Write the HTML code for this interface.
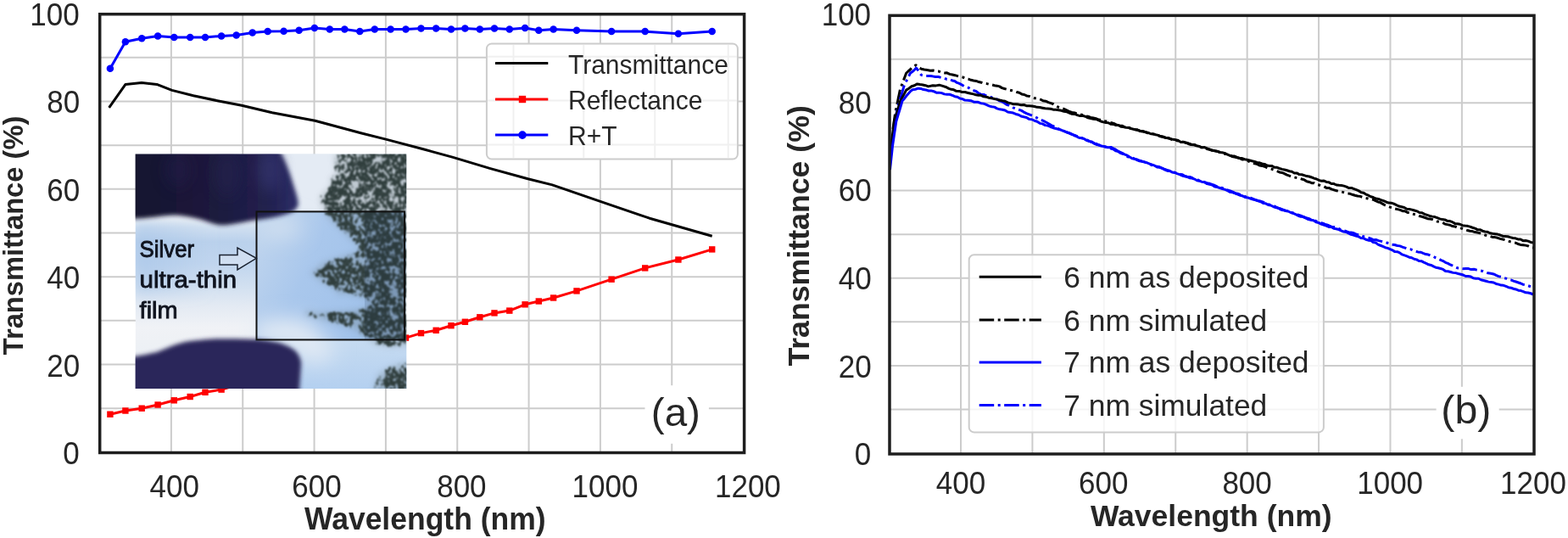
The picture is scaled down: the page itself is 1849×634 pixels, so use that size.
<!DOCTYPE html>
<html><head><meta charset="utf-8"><title>Transmittance figure</title>
<style>html,body{margin:0;padding:0;background:#fff;overflow:hidden}svg{display:block}text{font-family:'Liberation Sans', sans-serif}</style></head><body>
<svg width="1849" height="634" viewBox="0 0 1849 634">
<rect width="1849" height="634" fill="#ffffff"/>
<line x1="201.9" y1="16.7" x2="201.9" y2="533.5" stroke="#cccccc" stroke-width="2"/>
<line x1="286.24" y1="16.7" x2="286.24" y2="533.5" stroke="#cccccc" stroke-width="2"/>
<line x1="370.57" y1="16.7" x2="370.57" y2="533.5" stroke="#cccccc" stroke-width="2"/>
<line x1="454.9" y1="16.7" x2="454.9" y2="533.5" stroke="#cccccc" stroke-width="2"/>
<line x1="539.24" y1="16.7" x2="539.24" y2="533.5" stroke="#cccccc" stroke-width="2"/>
<line x1="623.57" y1="16.7" x2="623.57" y2="533.5" stroke="#cccccc" stroke-width="2"/>
<line x1="707.9" y1="16.7" x2="707.9" y2="533.5" stroke="#cccccc" stroke-width="2"/>
<line x1="792.24" y1="16.7" x2="792.24" y2="533.5" stroke="#cccccc" stroke-width="2"/>
<line x1="117.7" y1="481.22" x2="877.6" y2="481.22" stroke="#cccccc" stroke-width="2"/>
<line x1="117.7" y1="429.54" x2="877.6" y2="429.54" stroke="#cccccc" stroke-width="2"/>
<line x1="117.7" y1="377.86" x2="877.6" y2="377.86" stroke="#cccccc" stroke-width="2"/>
<line x1="117.7" y1="326.18" x2="877.6" y2="326.18" stroke="#cccccc" stroke-width="2"/>
<line x1="117.7" y1="274.5" x2="877.6" y2="274.5" stroke="#cccccc" stroke-width="2"/>
<line x1="117.7" y1="222.82" x2="877.6" y2="222.82" stroke="#cccccc" stroke-width="2"/>
<line x1="117.7" y1="171.14" x2="877.6" y2="171.14" stroke="#cccccc" stroke-width="2"/>
<line x1="117.7" y1="119.46" x2="877.6" y2="119.46" stroke="#cccccc" stroke-width="2"/>
<line x1="117.7" y1="67.78" x2="877.6" y2="67.78" stroke="#cccccc" stroke-width="2"/>
<rect x="760.5" y="454.2" width="75.4" height="68.6" fill="#fff"/>
<polyline points="128.6,126.8 148,99.4 167,97.5 184.9,99.4 202.8,106.4 228.1,112.7 257.6,119 285,124.3 320.9,132.7 371.5,142.2 426.4,157 455.9,164.4 500,176 534.2,185.4 578.3,198.6 622.5,210.8 651.2,217.9 710.8,238.4 766,257.2 839.7,278.2" fill="none" stroke="#000" stroke-width="3" stroke-linejoin="round"/>
<polyline points="129.9,488.2 147.9,484 167.2,481.2 186.1,477 205.3,471.8 224.2,467.5 242,462.3 261.1,459.1 278.7,454.16 297.7,448.83 315.7,443.78 334.6,438.48 352.6,433.43 370.9,428.29 388.8,423.27 406.4,418.33 424.3,413.31 441.8,408.4 460.6,403.12 478.5,398.1 496.5,392.6 514.2,389.3 532,383.7 548.4,379.3 565.8,373.8 583,368.9 600.8,366.1 619.1,358.8 635.3,355 652.6,351 680,342.9 721.1,329.2 760.7,315.9 799.9,306 839.7,293.9" fill="none" stroke="#ff0000" stroke-width="3" stroke-linejoin="round"/>
<rect x="126.2" y="484.5" width="7.4" height="7.4" fill="#ff0000"/>
<rect x="144.2" y="480.3" width="7.4" height="7.4" fill="#ff0000"/>
<rect x="163.5" y="477.5" width="7.4" height="7.4" fill="#ff0000"/>
<rect x="182.4" y="473.3" width="7.4" height="7.4" fill="#ff0000"/>
<rect x="201.6" y="468.1" width="7.4" height="7.4" fill="#ff0000"/>
<rect x="220.5" y="463.8" width="7.4" height="7.4" fill="#ff0000"/>
<rect x="238.3" y="458.6" width="7.4" height="7.4" fill="#ff0000"/>
<rect x="257.4" y="455.4" width="7.4" height="7.4" fill="#ff0000"/>
<rect x="275" y="450.46" width="7.4" height="7.4" fill="#ff0000"/>
<rect x="294" y="445.13" width="7.4" height="7.4" fill="#ff0000"/>
<rect x="312" y="440.08" width="7.4" height="7.4" fill="#ff0000"/>
<rect x="330.9" y="434.78" width="7.4" height="7.4" fill="#ff0000"/>
<rect x="348.9" y="429.73" width="7.4" height="7.4" fill="#ff0000"/>
<rect x="367.2" y="424.59" width="7.4" height="7.4" fill="#ff0000"/>
<rect x="385.1" y="419.57" width="7.4" height="7.4" fill="#ff0000"/>
<rect x="402.7" y="414.63" width="7.4" height="7.4" fill="#ff0000"/>
<rect x="420.6" y="409.61" width="7.4" height="7.4" fill="#ff0000"/>
<rect x="438.1" y="404.7" width="7.4" height="7.4" fill="#ff0000"/>
<rect x="456.9" y="399.42" width="7.4" height="7.4" fill="#ff0000"/>
<rect x="474.8" y="394.4" width="7.4" height="7.4" fill="#ff0000"/>
<rect x="492.8" y="388.9" width="7.4" height="7.4" fill="#ff0000"/>
<rect x="510.5" y="385.6" width="7.4" height="7.4" fill="#ff0000"/>
<rect x="528.3" y="380" width="7.4" height="7.4" fill="#ff0000"/>
<rect x="544.7" y="375.6" width="7.4" height="7.4" fill="#ff0000"/>
<rect x="562.1" y="370.1" width="7.4" height="7.4" fill="#ff0000"/>
<rect x="579.3" y="365.2" width="7.4" height="7.4" fill="#ff0000"/>
<rect x="597.1" y="362.4" width="7.4" height="7.4" fill="#ff0000"/>
<rect x="615.4" y="355.1" width="7.4" height="7.4" fill="#ff0000"/>
<rect x="631.6" y="351.3" width="7.4" height="7.4" fill="#ff0000"/>
<rect x="648.9" y="347.3" width="7.4" height="7.4" fill="#ff0000"/>
<rect x="676.3" y="339.2" width="7.4" height="7.4" fill="#ff0000"/>
<rect x="717.4" y="325.5" width="7.4" height="7.4" fill="#ff0000"/>
<rect x="757" y="312.2" width="7.4" height="7.4" fill="#ff0000"/>
<rect x="796.2" y="302.3" width="7.4" height="7.4" fill="#ff0000"/>
<rect x="836" y="290.2" width="7.4" height="7.4" fill="#ff0000"/>
<polyline points="129.9,80.8 147.9,49.2 167.2,45.2 186.1,42.4 205.3,44.1 224.2,44.1 242,44.1 261.1,42.4 278.7,41.4 297.7,38.6 315.7,37.1 334.6,36.7 352.6,35.7 370.9,32.9 388.8,34.6 406.4,34.6 424.3,37.1 441.8,34.6 460.6,34.6 478.5,34.6 496.5,33.6 514.2,33.6 532,34.6 548.4,33.6 565.8,34.6 583,33.6 600.8,34.6 619.1,32.9 635.3,35.7 652.6,34.6 680,35.7 721.1,37.1 760.7,37.1 799.9,39.7 839.7,37.1" fill="none" stroke="#0000ff" stroke-width="3" stroke-linejoin="round"/>
<circle cx="129.9" cy="80.8" r="4.25" fill="#0000ff"/>
<circle cx="147.9" cy="49.2" r="4.25" fill="#0000ff"/>
<circle cx="167.2" cy="45.2" r="4.25" fill="#0000ff"/>
<circle cx="186.1" cy="42.4" r="4.25" fill="#0000ff"/>
<circle cx="205.3" cy="44.1" r="4.25" fill="#0000ff"/>
<circle cx="224.2" cy="44.1" r="4.25" fill="#0000ff"/>
<circle cx="242" cy="44.1" r="4.25" fill="#0000ff"/>
<circle cx="261.1" cy="42.4" r="4.25" fill="#0000ff"/>
<circle cx="278.7" cy="41.4" r="4.25" fill="#0000ff"/>
<circle cx="297.7" cy="38.6" r="4.25" fill="#0000ff"/>
<circle cx="315.7" cy="37.1" r="4.25" fill="#0000ff"/>
<circle cx="334.6" cy="36.7" r="4.25" fill="#0000ff"/>
<circle cx="352.6" cy="35.7" r="4.25" fill="#0000ff"/>
<circle cx="370.9" cy="32.9" r="4.25" fill="#0000ff"/>
<circle cx="388.8" cy="34.6" r="4.25" fill="#0000ff"/>
<circle cx="406.4" cy="34.6" r="4.25" fill="#0000ff"/>
<circle cx="424.3" cy="37.1" r="4.25" fill="#0000ff"/>
<circle cx="441.8" cy="34.6" r="4.25" fill="#0000ff"/>
<circle cx="460.6" cy="34.6" r="4.25" fill="#0000ff"/>
<circle cx="478.5" cy="34.6" r="4.25" fill="#0000ff"/>
<circle cx="496.5" cy="33.6" r="4.25" fill="#0000ff"/>
<circle cx="514.2" cy="33.6" r="4.25" fill="#0000ff"/>
<circle cx="532" cy="34.6" r="4.25" fill="#0000ff"/>
<circle cx="548.4" cy="33.6" r="4.25" fill="#0000ff"/>
<circle cx="565.8" cy="34.6" r="4.25" fill="#0000ff"/>
<circle cx="583" cy="33.6" r="4.25" fill="#0000ff"/>
<circle cx="600.8" cy="34.6" r="4.25" fill="#0000ff"/>
<circle cx="619.1" cy="32.9" r="4.25" fill="#0000ff"/>
<circle cx="635.3" cy="35.7" r="4.25" fill="#0000ff"/>
<circle cx="652.6" cy="34.6" r="4.25" fill="#0000ff"/>
<circle cx="680" cy="35.7" r="4.25" fill="#0000ff"/>
<circle cx="721.1" cy="37.1" r="4.25" fill="#0000ff"/>
<circle cx="760.7" cy="37.1" r="4.25" fill="#0000ff"/>
<circle cx="799.9" cy="39.7" r="4.25" fill="#0000ff"/>
<circle cx="839.7" cy="37.1" r="4.25" fill="#0000ff"/>
<defs>
<clipPath id="ic"><rect x="159.6" y="181.4" width="319.7" height="276.6"/></clipPath>
<filter id="b2" x="-20%" y="-20%" width="140%" height="140%"><feGaussianBlur stdDeviation="2.4"/></filter>
<filter id="b6" x="-60%" y="-60%" width="220%" height="220%"><feGaussianBlur stdDeviation="8"/></filter>
<filter id="b12" x="-60%" y="-60%" width="220%" height="220%"><feGaussianBlur stdDeviation="12"/></filter>
<linearGradient id="skyL" x1="0" y1="181.4" x2="0" y2="458.0" gradientUnits="userSpaceOnUse"><stop offset="0" stop-color="#d5e1ef"/><stop offset="0.277" stop-color="#e9eef5"/><stop offset="0.313" stop-color="#d0dff0"/><stop offset="0.374" stop-color="#bad1ec"/><stop offset="0.465" stop-color="#c0d5ee"/><stop offset="0.556" stop-color="#d0dff0"/><stop offset="0.647" stop-color="#e3eaf3"/><stop offset="0.738" stop-color="#f0f2f6"/><stop offset="0.8" stop-color="#eef1f5"/><stop offset="1" stop-color="#e6ecf4"/></linearGradient>
<linearGradient id="skyLx" x1="160" y1="0" x2="250" y2="0" gradientUnits="userSpaceOnUse"><stop offset="0" stop-color="#9fbfe6" stop-opacity="0.5"/><stop offset="1" stop-color="#9fbfe6" stop-opacity="0"/></linearGradient>
<linearGradient id="skyR" x1="302" y1="250" x2="470" y2="330" gradientUnits="userSpaceOnUse"><stop offset="0" stop-color="#c3d7ee"/><stop offset="0.45" stop-color="#a9c7ec"/><stop offset="1" stop-color="#9fc1ea"/></linearGradient>
<linearGradient id="skyB" x1="0" y1="400" x2="0" y2="458" gradientUnits="userSpaceOnUse"><stop offset="0" stop-color="#c6dbf1"/><stop offset="1" stop-color="#b4d0f0"/></linearGradient>
<linearGradient id="fingT" x1="160" y1="0" x2="352" y2="0" gradientUnits="userSpaceOnUse"><stop offset="0" stop-color="#17152f"/><stop offset="0.5" stop-color="#1c1a3e"/><stop offset="0.82" stop-color="#22214f"/><stop offset="1" stop-color="#2c2e68"/></linearGradient>
</defs>
<g clip-path="url(#ic)">
<rect x="159.6" y="181.4" width="319.7" height="276.6" fill="url(#skyL)"/>
<rect x="159" y="262" width="100" height="85" fill="url(#skyLx)" filter="url(#b6)"/>
<rect x="300" y="181" width="180" height="69" fill="#e4ebf4"/>
<rect x="302.5" y="249.4" width="175" height="151" fill="url(#skyR)"/>
<rect x="300" y="400.5" width="180" height="58" fill="url(#skyB)"/>
<g filter="url(#b12)"><ellipse cx="335" cy="392" rx="40" ry="16" fill="#e4ecf5"/><ellipse cx="372" cy="412" rx="22" ry="14" fill="#e2eaf4"/><ellipse cx="330" cy="268" rx="26" ry="12" fill="#d2e0f0"/></g>
<g filter="url(#b2)">
<path d="M150,175 L328.5,175 C334,185 339,196 343,208 C347,222 352,234 351.9,241 C350,246 347,249 343,250.5 C337,252.5 332,254 328,255 C318,257 308,258.5 300,259.5 C290,261 283,263 275,264 C268,265.5 262,265.5 257,265 C248,263 240,259 230,257 C220,255 212,253.5 205,253.5 C195,254 185,255.5 175,256.5 C165,257.5 158,258 150,258 Z" fill="url(#fingT)"/>
<path d="M150,421 C165,420 175,417 185,415 C200,409 210,404 222.4,402.2 C240,400 250,399 259.9,399.2 C280,399 295,399.5 304.9,400 C320,402 328,403 334.8,406 C343,409 347,412 349.8,415 C354,421 355.5,426 355,430 C354.5,440 353.5,450 352.8,465 L150,465 Z" fill="#29275a"/>
</g>
<g filter="url(#b6)" opacity="0.55"><ellipse cx="318" cy="200" rx="14" ry="26" fill="#3a3b78"/><ellipse cx="268" cy="205" rx="16" ry="28" fill="#25234f"/><ellipse cx="210" cy="200" rx="16" ry="22" fill="#201e48"/></g>
<filter id="tree" filterUnits="userSpaceOnUse" x="340" y="175" width="145" height="290" color-interpolation-filters="sRGB"><feGaussianBlur in="SourceAlpha" stdDeviation="3.5" result="sh"/><feTurbulence type="fractalNoise" baseFrequency="0.07" numOctaves="2" seed="4" result="nc"/><feTurbulence type="fractalNoise" baseFrequency="0.3 0.22" numOctaves="2" seed="21" result="nf"/><feColorMatrix in="nc" type="matrix" values="0 0 0 0 0  0 0 0 0 0  0 0 0 0 0  2.4 0 0 0 -0.55" result="ca"/><feColorMatrix in="nf" type="matrix" values="0 0 0 0 0  0 0 0 0 0  0 0 0 0 0  2.0 0 0 0 -0.45" result="fa"/><feComposite in="ca" in2="sh" operator="arithmetic" k1="0.8" k2="0" k3="0.45" k4="0" result="dens"/><feComposite in="fa" in2="dens" operator="arithmetic" k1="1.6" k2="0" k3="0.42" k4="-0.75" result="m"/><feComponentTransfer in="m" result="m2"><feFuncA type="linear" slope="3.0" intercept="0"/></feComponentTransfer><feGaussianBlur stdDeviation="1.0" result="m3"/><feFlood flood-color="#303e3d" result="c"/><feComposite in="c" in2="m3" operator="in" result="dk"/><feFlood flood-color="#6c7c82" flood-opacity="0.3" result="c2"/><feComposite in="c2" in2="sh" operator="in" result="mid"/><feMerge><feMergeNode in="mid"/><feMergeNode in="dk"/></feMerge></filter>
<g filter="url(#tree)" fill="#000">
<path d="M394,181 L480,181 L480,300 L470,306 L452,304 L438,304 L425,292 L410,278 L396,265 L386,255 L379,242 L377,232 L386,223 L398,211 L395,196 Z"/>
<path d="M368,322 L380,310 L402,303 L432,293 L480,288 L480,358 L440,354 L416,348 L398,342 L380,333 Z"/>
<path d="M360,369 L385,368 L416,366 L440,360 L480,358 L480,402 L452,408 L432,398 L418,388 L400,382 L378,376 Z"/>
<path d="M440,462 L446,441 L461,432 L482,426 L482,462 Z"/>
<path d="M440,250 L480,250 L480,400 L445,400 Z"/>
<path d="M484.53,177.02 L450.12,176.58 L419.54,178.99 L397.32,183.05 L398.68,192.95 L420.46,191.01 L449.88,191.42 L483.47,194.98 Z M484.65,191.02 L449.73,191.49 L418.76,197.81 L398.49,205.46 L388.51,210.29 L391.49,217.71 L401.51,214.54 L421.24,210.19 L450.27,208.51 L483.35,212.98 Z M484,212 L449.41,214.62 L418.92,221 L397.33,226.66 L379.78,229.01 L380.22,236.99 L398.67,237.34 L421.08,235 L450.59,233.38 L484,236 Z M483.59,234.01 L454.02,237.41 L423.62,244.96 L404.29,251.59 L389.6,246.34 L386.4,253.66 L403.71,262.41 L426.38,259.04 L455.98,256.59 L484.41,257.99 Z M482.18,256.14 L455.86,262.74 L431.4,273.09 L412.98,271.1 L411.02,280.9 L432.6,286.91 L460.14,281.26 L485.82,279.86 Z M481.11,279.39 L460.06,287.87 L440.82,294.12 L443.18,305.88 L463.94,304.13 L486.89,300.61 Z M485.03,303.04 L455.41,304 L424.69,307.09 L397.36,311.91 L367.6,319.03 L368.4,324.97 L398.64,324.09 L425.31,324.91 L454.59,328 L482.97,332.96 Z M468.81,321.08 L438.83,327.58 L413.97,335.69 L397.31,341.08 L398.69,346.92 L416.03,344.31 L441.17,340.42 L471.19,338.92 Z M482.77,333.06 L453.8,339.62 L433.82,346.12 L436.18,357.88 L456.2,356.38 L485.23,356.94 Z M484.38,373.01 L455.76,374 L425.92,372.09 L395.75,370.14 L360.42,366.54 L359.58,371.46 L394.25,379.86 L424.08,385.91 L454.24,392 L483.62,394.99 Z M482.52,389.12 L459.69,395.2 L440.5,395.02 L439.5,404.98 L460.31,408.8 L485.48,406.88 Z M481.94,427.21 L462.5,433.88 L444.76,445.53 L449.24,454.47 L467.5,448.12 L486.06,446.79 Z M483.28,447.03 L461.55,452.02 L462.45,461.98 L484.72,462.97 Z"/>
</g>
<rect x="430" y="250" width="48" height="150" fill="#1d3048" opacity="0.15"/>
</g>
<rect x="302.5" y="249.4" width="174.5" height="151" fill="none" stroke="#111" stroke-width="2"/>
<path d="M259,300.5 L280,300.5 L280,292 L302.3,304.3 L280,318 L280,312 L259,312 Z" fill="#dfe8f3" fill-opacity="0.5" stroke="#1a2230" stroke-width="1.5" stroke-linejoin="miter"/>
<text x="164.6" y="302.8" font-size="28" fill="#10141f" stroke="#10141f" stroke-width="0.9" textLength="64.5" lengthAdjust="spacingAndGlyphs">Silver</text>
<text x="164.6" y="338.5" font-size="28" fill="#10141f" stroke="#10141f" stroke-width="0.9" textLength="114.5" lengthAdjust="spacingAndGlyphs">ultra-thin</text>
<text x="164.6" y="375.3" font-size="28" fill="#10141f" stroke="#10141f" stroke-width="0.9" textLength="45.0" lengthAdjust="spacingAndGlyphs">film</text>
<rect x="573.9" y="51.4" width="296" height="136.2" rx="6" ry="6" fill="#ffffff" stroke="#cccccc" stroke-width="2"/>
<line x1="605.5" y1="53" x2="605.5" y2="186" stroke="#f0f0f0" stroke-width="2"/>
<line x1="688.3" y1="53" x2="688.3" y2="186" stroke="#f0f0f0" stroke-width="2"/>
<line x1="772.3" y1="53" x2="772.3" y2="186" stroke="#f0f0f0" stroke-width="2"/>
<line x1="858.7" y1="53" x2="858.7" y2="186" stroke="#f0f0f0" stroke-width="2"/>
<line x1="575" y1="66.8" x2="869" y2="66.8" stroke="#f0f0f0" stroke-width="2"/>
<line x1="575" y1="118.4" x2="869" y2="118.4" stroke="#f0f0f0" stroke-width="2"/>
<line x1="575" y1="170.4" x2="869" y2="170.4" stroke="#f0f0f0" stroke-width="2"/>
<line x1="584" y1="74.6" x2="646.3" y2="74.6" stroke="#000" stroke-width="3"/>
<line x1="584" y1="117" x2="646.3" y2="117" stroke="#ff0000" stroke-width="3"/>
<rect x="611.8" y="112.8" width="8.4" height="8.4" fill="#ff0000"/>
<line x1="584" y1="159.1" x2="646.3" y2="159.1" stroke="#0000ff" stroke-width="3"/>
<circle cx="616" cy="159.1" r="4.8" fill="#0000ff"/>
<text x="670" y="86.7" font-size="30" fill="#262626" transform="matrix(1.0000 0 0 1.0750 0.000 -6.502)">Transmittance</text>
<text x="670" y="128.9" font-size="30" fill="#262626" transform="matrix(1.0000 0 0 1.0750 0.000 -9.667)">Reflectance</text>
<text x="670" y="170.9" font-size="30" fill="#262626" transform="matrix(1.0000 0 0 1.0750 0.000 -12.817)">R+T</text>
<text x="768" y="501.9" font-size="45.5" fill="#262626" transform="matrix(1.0450 0 0 1.0000 -34.695 0.000)">(a)</text>
<rect x="117.7" y="16.7" width="759.9" height="516.8" fill="none" stroke="#1e1e1e" stroke-width="3.5"/>
<text x="74.3" y="547.36" font-size="35" fill="#262626" transform="matrix(1.0000 0 0 1.0750 0.000 -41.052)">0</text>
<text x="55.3" y="443.8" font-size="35" fill="#262626" transform="matrix(1.0000 0 0 1.0750 0.000 -33.285)">20</text>
<text x="55.3" y="340.24" font-size="35" fill="#262626" transform="matrix(1.0000 0 0 1.0750 0.000 -25.518)">40</text>
<text x="55.3" y="236.68" font-size="35" fill="#262626" transform="matrix(1.0000 0 0 1.0750 0.000 -17.751)">60</text>
<text x="55.3" y="133.12" font-size="35" fill="#262626" transform="matrix(1.0000 0 0 1.0750 0.000 -9.984)">80</text>
<text x="35.3" y="29.56" font-size="35" fill="#262626" transform="matrix(1.0000 0 0 1.0750 0.000 -2.217)">100</text>
<text x="176.5" y="586.2" font-size="35" fill="#262626" transform="matrix(1.0000 0 0 1.0750 0.000 -43.965)">400</text>
<text x="344.3" y="586.2" font-size="35" fill="#262626" transform="matrix(1.0000 0 0 1.0750 0.000 -43.965)">600</text>
<text x="515.2" y="586.2" font-size="35" fill="#262626" transform="matrix(1.0000 0 0 1.0750 0.000 -43.965)">800</text>
<text x="674.6" y="586.2" font-size="35" fill="#262626" transform="matrix(1.0000 0 0 1.0750 0.000 -43.965)">1000</text>
<text x="843" y="586.2" font-size="35" fill="#262626" transform="matrix(1.0000 0 0 1.0750 0.000 -43.965)">1200</text>
<text x="359" y="624" font-size="35.5" font-weight="bold" fill="#262626" transform="matrix(1.0000 0 0 1.0200 0.000 -12.480)">Wavelength (nm)</text>
<text transform="translate(27 418.2) rotate(-90) scale(1 1.03)" x="0" y="0" font-size="32.7" font-weight="bold" fill="#262626">Transmittance (%)</text>
<line x1="1133.01" y1="18.3" x2="1133.01" y2="535" stroke="#cccccc" stroke-width="2"/>
<line x1="1217.42" y1="18.3" x2="1217.42" y2="535" stroke="#cccccc" stroke-width="2"/>
<line x1="1301.83" y1="18.3" x2="1301.83" y2="535" stroke="#cccccc" stroke-width="2"/>
<line x1="1386.24" y1="18.3" x2="1386.24" y2="535" stroke="#cccccc" stroke-width="2"/>
<line x1="1470.66" y1="18.3" x2="1470.66" y2="535" stroke="#cccccc" stroke-width="2"/>
<line x1="1555.07" y1="18.3" x2="1555.07" y2="535" stroke="#cccccc" stroke-width="2"/>
<line x1="1639.48" y1="18.3" x2="1639.48" y2="535" stroke="#cccccc" stroke-width="2"/>
<line x1="1723.89" y1="18.3" x2="1723.89" y2="535" stroke="#cccccc" stroke-width="2"/>
<line x1="1049" y1="482.59" x2="1809" y2="482.59" stroke="#cccccc" stroke-width="2"/>
<line x1="1049" y1="430.98" x2="1809" y2="430.98" stroke="#cccccc" stroke-width="2"/>
<line x1="1049" y1="379.37" x2="1809" y2="379.37" stroke="#cccccc" stroke-width="2"/>
<line x1="1049" y1="327.76" x2="1809" y2="327.76" stroke="#cccccc" stroke-width="2"/>
<line x1="1049" y1="276.15" x2="1809" y2="276.15" stroke="#cccccc" stroke-width="2"/>
<line x1="1049" y1="224.54" x2="1809" y2="224.54" stroke="#cccccc" stroke-width="2"/>
<line x1="1049" y1="172.93" x2="1809" y2="172.93" stroke="#cccccc" stroke-width="2"/>
<line x1="1049" y1="121.32" x2="1809" y2="121.32" stroke="#cccccc" stroke-width="2"/>
<line x1="1049" y1="69.71" x2="1809" y2="69.71" stroke="#cccccc" stroke-width="2"/>
<rect x="1693.6" y="455.8" width="74.1" height="61.5" fill="#fff"/>
<defs><clipPath id="rc"><rect x="1049" y="18" width="760" height="517"/></clipPath></defs>
<g clip-path="url(#rc)">
<polyline points="1053,152 1053.43,148.93 1053.87,145.87 1054.3,142.8 1054.73,139.73 1055.17,136.67 1055.6,133.6 1056.26,130.44 1056.91,127.29 1057.57,124.13 1058.22,120.98 1058.88,117.82 1059.53,114.67 1060.19,111.51 1060.84,108.36 1061.5,105.2 1062.68,102.05 1063.87,98.9 1065.05,95.75 1066.23,92.6 1067.42,89.45 1068.6,86.25 1070.97,83.99 1073.33,81.99 1075.7,79.17 1080,76.81 1083.2,79.24 1086.4,81.18 1089.92,81.99 1093.44,82.59 1096.96,83.23 1100.48,83.01 1104,83.7 1107.17,84.09 1110.33,85.41 1113.5,85.89 1116.67,85.84 1119.83,87.38 1123,87.96 1126.14,88.67 1129.29,89.64 1132.43,90.2 1135.57,91.07 1138.71,92.6 1141.86,93.15 1145,94.29 1148.07,95 1151.14,95.45 1154.21,96.54 1157.28,97.18 1160.35,98.24 1163.42,98.58 1166.49,99.36 1169.56,99.88 1172.63,100.7 1175.7,101.16 1178.62,101.92 1181.53,103.59 1184.45,104.53 1187.36,105.32 1190.28,106.14 1193.19,106.69 1196.11,107.55 1199.02,108.56 1201.94,109.29 1204.85,110.93 1207.77,111.51 1210.68,112.9 1213.6,113.39 1216.84,114.92 1220.09,115.76 1223.33,115.87 1226.57,117.04 1229.81,118.7 1233.06,119.21 1236.3,120.68 1239.34,121.6 1242.38,122.77 1245.42,124.83 1248.46,126.48 1251.5,127.47 1254.65,128.4 1257.8,129.77 1260.95,131.51 1264.1,132.42 1267.25,132.9 1270.4,134.15 1273.55,134.78 1276.7,135.53 1279.85,137.05 1283,137.21 1286.15,138.38 1289.3,139.05 1292.37,139.64 1295.44,141.03 1298.51,141.28 1301.58,142.64 1304.65,142.97 1307.72,144.12 1310.79,144.76 1313.86,145.67 1316.93,147.22 1320,147.9 1323.01,148.21 1326.02,149.59 1329.03,149.72 1332.04,150.71 1335.05,151.98 1338.05,152.57 1341.06,152.83 1344.07,154.53 1347.08,154.55 1350.09,155.4 1353.1,156.72 1356.11,157.08 1359.12,157.86 1362.13,158.44 1365.14,159.26 1368.15,160.56 1371.15,161.02 1374.16,162.18 1377.17,162.76 1380.18,163.64 1383.19,164.95 1386.2,165.28 1389.31,166.18 1392.42,167.28 1395.53,167.41 1398.64,168.19 1401.75,169.75 1404.85,170.47 1407.96,170.71 1411.07,171.46 1414.18,172.82 1417.29,173.83 1420.4,173.9 1423.35,175.55 1426.31,176.38 1429.26,177 1432.21,177.72 1435.16,178.3 1438.12,179.14 1441.07,180.96 1444.02,181.14 1446.98,182.5 1449.93,182.96 1452.88,184.42 1455.84,185.1 1458.79,185.69 1461.74,186.48 1464.69,187.92 1467.65,188.17 1470.6,189.23 1473.54,190.59 1476.48,191.91 1479.42,192.71 1482.35,193.4 1485.29,195.07 1488.23,195.39 1491.17,196.23 1494.11,197.52 1497.05,198.72 1499.98,199.37 1502.92,200.51 1505.86,201.74 1508.8,202.97 1511.71,203.48 1514.63,204.66 1517.54,206.13 1520.46,207.17 1523.37,207.8 1526.29,208.78 1529.2,209.62 1532.11,210.12 1535.03,210.96 1537.94,211.89 1540.86,213.73 1543.77,214.47 1546.69,215.68 1549.6,215.69 1552.51,217.25 1555.43,218.04 1558.34,219.24 1561.26,219.78 1564.17,221.4 1567.09,221.43 1570,222.85 1573.08,223.82 1576.16,224.78 1579.24,225.4 1582.33,226.15 1585.41,227.03 1588.49,227.94 1591.57,228.16 1594.65,229.29 1597.73,230.29 1600.81,231.05 1603.89,231.38 1606.97,232.54 1610.06,233.4 1613.14,233.9 1616.22,234.74 1619.3,235.28 1622.14,236.7 1624.99,237.94 1627.83,238.62 1630.67,240.4 1633.51,241.96 1636.36,243.07 1639.2,244.13 1642.14,244.68 1645.09,245.92 1648.03,246.66 1650.98,247.41 1653.92,248.7 1656.87,248.84 1659.81,250.4 1662.76,250.57 1665.7,252.03 1668.64,252.81 1671.59,253.45 1674.53,254.81 1677.48,255.5 1680.42,256.51 1683.37,257.71 1686.31,257.94 1689.26,258.59 1692.2,259.77 1695.14,261.04 1698.09,261.45 1701.03,262.31 1703.98,263.94 1706.92,264.59 1709.87,265.26 1712.81,266.61 1715.76,266.93 1718.7,268.17 1721.65,268.48 1724.6,269.5 1727.55,270.66 1730.5,271.56 1733.45,272.31 1736.4,272.6 1739.35,273.58 1742.3,274.1 1745.25,274.71 1748.2,275.85 1751.15,276.98 1754.1,277.78 1757.05,278.43 1760,279.45 1763,279.59 1766,280.29 1769,281.39 1772,282.03 1775,282.78 1778,283.79 1781,284.81 1784,285.49 1787,286.13 1790,287.46 1793,288.42 1796,288.7 1799,289.14 1802,289.91 1805,291.56 1808,292" fill="none" stroke="#000" stroke-width="3" stroke-linejoin="round" stroke-dasharray="17.5 4.5 3 4.5"/>
<polyline points="1055,146 1055.6,142.56 1056.2,139.12 1056.8,135.68 1057.4,132.24 1058,128.8 1058.92,125.66 1059.84,122.51 1060.77,119.37 1061.69,116.22 1062.61,113.08 1063.53,109.93 1064.46,106.79 1065.38,103.64 1066.3,100.5 1067.72,97.66 1069.14,94.82 1070.56,91.98 1071.98,89.14 1073.4,86.27 1075.77,84.49 1078.13,82.53 1080.5,80.04 1082.47,82.64 1084.43,85.74 1086.4,88.37 1089.65,89.21 1092.9,89.39 1096.15,89.6 1099.4,89.86 1102.93,90.53 1106.47,90.58 1110,91.44 1113.25,91.94 1116.5,93.46 1119.75,93.38 1123,94.92 1125.75,95.5 1128.5,97.44 1131.25,98.41 1134,99.8 1136.75,101.57 1139.5,102.07 1142.25,103.44 1145,105.62 1147.95,106.58 1150.9,107.54 1153.85,109.81 1156.8,111.15 1159.95,111.41 1163.1,112.82 1166.25,113.64 1169.4,114.91 1172.55,116.32 1175.7,116.96 1178.41,118.85 1181.13,119.57 1183.84,121.04 1186.56,123.04 1189.27,123.99 1191.99,125.36 1194.7,126.9 1197.85,128.04 1201,129.22 1204.15,130.13 1207.3,132.09 1210.45,133.6 1213.6,134.88 1216.3,135.91 1219,136.94 1221.7,138.29 1224.4,139.96 1227.1,141.29 1229.8,142.07 1232.5,143.53 1235.21,145.02 1237.93,146.53 1240.64,148.18 1243.36,149.23 1246.07,150.11 1248.79,152.27 1251.5,153.23 1254.65,154.59 1257.8,155.56 1260.95,157.03 1264.1,158.25 1267.25,159.91 1270.4,160.5 1273.24,162.08 1276.08,162.84 1278.92,164.49 1281.76,164.96 1284.6,166.33 1287.44,167.52 1290.28,168.95 1293.12,169.49 1295.96,171.03 1298.8,171.91 1302.53,172.75 1306.27,173.71 1310,174.96 1312.76,175.86 1315.53,177.71 1318.29,178.29 1321.05,180.42 1323.81,181.24 1326.57,182.44 1329.34,184.37 1332.1,185.91 1335.05,185.99 1337.99,187.23 1340.94,188.71 1343.89,189.26 1346.83,190.14 1349.78,190.89 1352.73,191.9 1355.67,193.46 1358.62,194.8 1361.57,195.8 1364.51,196.28 1367.46,196.78 1370.41,198.06 1373.35,199.51 1376.3,200.53 1379.24,201.29 1382.18,201.84 1385.12,203.09 1388.06,203.99 1391,205.09 1393.94,205.68 1396.88,207.32 1399.82,208.22 1402.76,208.44 1405.7,209.52 1408.64,211.06 1411.58,211.42 1414.52,213.04 1417.46,213.56 1420.4,214.7 1423.42,215.77 1426.44,216.34 1429.45,217.48 1432.47,218.51 1435.49,220 1438.51,221.08 1441.53,221.58 1444.55,223.4 1447.56,223.99 1450.58,224.88 1453.6,226.14 1456.61,227.68 1459.62,228.26 1462.63,229.32 1465.64,230.62 1468.65,231.66 1471.65,232.46 1474.66,233.12 1477.67,234.29 1480.68,235.6 1483.69,236.49 1486.7,237.28 1489.65,238.11 1492.59,239.2 1495.54,240.64 1498.49,241.53 1501.43,242.05 1504.38,243.81 1507.33,245.07 1510.27,246.03 1513.22,247.2 1516.17,248.28 1519.11,248.97 1522.06,250.29 1525.01,250.95 1527.95,251.73 1530.9,253.05 1533.91,254.07 1536.92,255.76 1539.92,256.57 1542.93,257.49 1545.94,258.63 1548.95,259.19 1551.95,260.67 1554.96,261.89 1557.97,262.65 1560.98,263.56 1563.98,264.78 1566.99,265.76 1570,267.19 1572.9,267.54 1575.8,268.38 1578.7,269.49 1581.6,270.77 1584.5,271.73 1587.4,272.52 1590.3,273.69 1593.2,274.02 1596.1,274.58 1599,275.93 1601.9,276.78 1604.8,277.41 1607.7,278.79 1610.6,279.36 1613.5,280.15 1616.4,281.13 1619.3,282.64 1622.46,282.5 1625.61,283.64 1628.77,284.35 1631.92,285.06 1635.08,286.08 1638.23,286.65 1641.39,288.14 1644.54,288.51 1647.7,289.5 1650.74,289.87 1653.79,291.08 1656.83,292.13 1659.87,293.27 1662.91,293.59 1665.96,294.7 1669,296 1672.04,296.89 1675.09,297.19 1678.13,298.41 1681.17,299.54 1684.21,300.08 1687.26,301.27 1690.3,302.16 1693.14,303.89 1695.98,304.89 1698.82,306.44 1701.66,307.53 1704.5,309.33 1707.34,310.34 1710.18,311.94 1713.02,313.22 1715.86,314.59 1718.7,315.84 1721.94,316.14 1725.19,316.67 1728.43,316.59 1731.67,316.6 1734.91,317.58 1738.16,317.27 1741.4,318.14 1744.72,318.73 1748.03,319.46 1751.35,320.87 1754.67,321.83 1757.98,322.19 1761.3,322.93 1764.22,324.42 1767.14,325.61 1770.06,326.35 1772.97,327.51 1775.89,328.12 1778.81,329.31 1781.73,329.93 1784.65,331.06 1787.57,332.01 1790.49,333 1793.41,333.99 1796.33,335.38 1799.24,335.73 1802.16,336.74 1805.08,337.77 1808,339" fill="none" stroke="#0000ff" stroke-width="3" stroke-linejoin="round" stroke-dasharray="17.5 4.5 3 4.5"/>
<polyline points="1049.5,182 1049.88,179 1050.27,176 1050.65,173 1051.04,170 1051.42,167 1051.81,164 1052.19,161 1052.58,158 1052.96,155 1053.35,152 1053.73,149 1054.12,146 1054.5,143 1055.38,140.05 1056.25,137.1 1057.12,134.15 1058,131.2 1058.88,128.25 1059.75,125.3 1060.62,122.35 1061.5,119.4 1063.28,116.15 1065.05,112.9 1066.82,109.65 1068.6,106.11 1071.8,104.17 1075,101.72 1078.3,100.82 1081.6,98.92 1084.85,99.55 1088.1,100.03 1091.35,100.7 1094.6,101.88 1100,100.76 1103.8,100.89 1107.6,100.16 1111.75,101.4 1115.9,102.72 1118.85,104.41 1121.8,105.33 1124.75,105.82 1127.7,107.33 1131.1,107.38 1134.5,108.45 1137.9,108.57 1141.45,109.42 1145,110.29 1147.95,110.87 1150.9,111.79 1153.85,112.28 1156.8,112.31 1159.95,113.8 1163.1,114.15 1166.25,115.26 1169.4,115.81 1172.55,116.43 1175.7,117.14 1178.87,118.02 1182.03,118.68 1185.2,119.24 1188.37,120.88 1191.53,121.66 1194.7,122.68 1197.85,122.8 1201,123.1 1204.15,123.8 1207.3,123.53 1210.45,124.65 1213.6,124.83 1216.75,124.98 1219.9,125.48 1223.05,126.33 1226.2,126.47 1229.35,127.18 1232.5,127.83 1235.67,128.06 1238.83,128.22 1242,129.14 1245.17,129.32 1248.33,129.8 1251.5,130.23 1254.65,131.22 1257.8,131.65 1260.95,133.13 1264.1,134.28 1267.25,134.38 1270.4,135.56 1273.55,136.6 1276.7,136.32 1279.85,137.22 1283,138.8 1286.15,139.62 1289.3,140.17 1292.26,140.43 1295.21,141.58 1298.17,142.97 1301.13,143.83 1304.09,144.58 1307.04,144.7 1310,146.32 1312.94,146.44 1315.89,147.54 1318.83,147.53 1321.78,149.22 1324.72,149.47 1327.67,150.3 1330.61,150.38 1333.56,151.55 1336.5,152.2 1339.42,152.99 1342.35,153.48 1345.27,154.7 1348.19,155.02 1351.12,155.74 1354.04,156.36 1356.96,157.76 1359.89,157.85 1362.81,158.76 1365.74,159.35 1368.66,160.81 1371.58,161.49 1374.51,162.25 1377.43,162.42 1380.35,163.67 1383.28,164.34 1386.2,164.81 1389.31,165.51 1392.42,167.52 1395.53,167.27 1398.64,168.3 1401.75,169.07 1404.85,170.27 1407.96,170.46 1411.07,171.74 1414.18,172.42 1417.29,173.79 1420.4,173.61 1423.35,174.84 1426.31,175.88 1429.26,177.29 1432.21,177.58 1435.16,178.37 1438.12,179.45 1441.07,179.84 1444.02,180.37 1446.98,181.77 1449.93,183.1 1452.88,183.74 1455.84,184 1458.79,185.36 1461.74,186.4 1464.69,186.53 1467.65,187.76 1470.6,188.33 1473.54,188.96 1476.48,189.78 1479.42,190.45 1482.35,191.4 1485.29,191.79 1488.23,192.99 1491.17,193.39 1494.11,194.96 1497.05,195.54 1499.98,195.6 1502.92,197.29 1505.86,197.36 1508.8,198.48 1511.71,199.4 1514.63,199.98 1517.54,200.76 1520.46,201.77 1523.37,202.25 1526.29,203.96 1529.2,203.9 1532.11,205.59 1535.03,205.7 1537.94,206.64 1540.86,207.59 1543.77,208 1546.69,208.95 1549.6,210.07 1552.51,211 1555.43,212.36 1558.34,213.34 1561.26,213.04 1564.17,214.47 1567.09,214.82 1570,216.46 1572.96,216.61 1575.91,218.02 1578.87,218.32 1581.82,218.54 1584.78,219.12 1587.73,220.13 1590.69,221.6 1593.64,221.46 1596.6,222.57 1599.44,223.68 1602.27,224.89 1605.11,226.67 1607.95,227.21 1610.79,229.05 1613.62,230.22 1616.46,231.78 1619.3,232.52 1622.34,234.02 1625.39,234.46 1628.43,235.63 1631.47,236.7 1634.51,237.98 1637.56,239.06 1640.6,239.14 1643.64,240.18 1646.69,241.67 1649.73,243.02 1652.77,243.7 1655.81,244.43 1658.86,246.24 1661.9,246.46 1664.89,247.1 1667.88,247.95 1670.87,248.82 1673.86,250.55 1676.85,250.7 1679.84,252.33 1682.83,253.4 1685.82,254.46 1688.81,255.12 1691.79,255.56 1694.78,256.69 1697.77,257.84 1700.76,258.59 1703.75,258.97 1706.74,260.44 1709.73,260.55 1712.72,261.68 1715.71,263.4 1718.7,263.67 1721.65,264.23 1724.6,265.66 1727.55,266.06 1730.5,266.33 1733.45,267.17 1736.4,268.25 1739.35,269.15 1742.3,270.68 1745.25,270.66 1748.2,272.19 1751.15,273 1754.1,273.29 1757.05,274.78 1760,275.31 1763,275.67 1766,276.09 1769,277.02 1772,278.23 1775,278.48 1778,278.76 1781,279.66 1784,280.47 1787,280.82 1790,281.96 1793,282 1796,283.64 1799,283.55 1802,284.15 1805,285.42 1808,286" fill="none" stroke="#000" stroke-width="3" stroke-linejoin="round"/>
<polyline points="1049.5,200 1049.83,196.89 1050.17,193.78 1050.5,190.67 1050.83,187.56 1051.17,184.44 1051.5,181.33 1051.83,178.22 1052.17,175.11 1052.5,172 1052.98,168.78 1053.46,165.56 1053.93,162.33 1054.41,159.11 1054.89,155.89 1055.37,152.67 1055.84,149.44 1056.32,146.22 1056.8,143 1057.69,140.05 1058.58,137.1 1059.46,134.15 1060.35,131.2 1061.24,128.25 1062.12,125.3 1063.01,122.35 1063.9,118.93 1066.27,116.48 1068.63,113.25 1071,110.43 1073.5,107.68 1076,105.71 1079.4,105.28 1082.8,104.19 1085.84,104.44 1088.89,105.56 1091.93,105.89 1094.97,107.02 1098.01,106.9 1101.06,107.7 1104.1,109.18 1107.25,109.13 1110.4,109.61 1113.55,110.87 1116.7,111.26 1119.85,111.28 1123,112.36 1125.98,113.7 1128.96,114.3 1131.94,116.08 1134.92,116.65 1137.9,118.1 1141.45,118.15 1145,118.65 1148.93,120.27 1152.87,120.28 1156.8,121.69 1159.95,122.13 1163.1,123.43 1166.25,124.85 1169.4,125.72 1172.55,126.13 1175.7,127.81 1178.87,128.81 1182.03,129.22 1185.2,130.06 1188.37,131.95 1191.53,132.47 1194.7,133.03 1197.85,134.44 1201,135.26 1204.15,137.06 1207.3,137.8 1210.45,138.42 1213.6,140.38 1216.75,140.77 1219.9,142.27 1223.05,143.23 1226.2,145.36 1229.35,145.87 1232.5,147.63 1235.67,148.06 1238.83,149.48 1242,150.67 1245.17,151.44 1248.33,152.3 1251.5,153.28 1254.65,154.49 1257.8,155.95 1260.95,156.61 1264.1,158.34 1267.25,159.32 1270.4,161.34 1273.24,162.56 1276.08,162.64 1278.92,163.86 1281.76,165.66 1284.6,166.64 1287.44,167.1 1290.28,169.06 1293.12,170.47 1295.96,170.98 1298.8,172.02 1302.53,172.78 1306.27,173.73 1310,173.42 1312.76,174.9 1315.53,176.2 1318.29,178.17 1321.05,179.41 1323.81,180.59 1326.57,182.19 1329.34,183.2 1332.1,184.97 1335.05,186.81 1337.99,187.37 1340.94,188.04 1343.89,189.86 1346.83,190.2 1349.78,191.1 1352.73,191.88 1355.67,193.04 1358.62,194.14 1361.57,195.21 1364.51,197.01 1367.46,197.32 1370.41,198.33 1373.35,199.79 1376.3,201.2 1379.24,201.4 1382.18,202.92 1385.12,203.4 1388.06,204.59 1391,205.58 1393.94,206.95 1396.88,207.68 1399.82,208.34 1402.76,209.69 1405.7,210.07 1408.64,211.05 1411.58,212.69 1414.52,213.15 1417.46,214.37 1420.4,214.78 1423.42,216.61 1426.44,217.35 1429.45,218.02 1432.47,219.96 1435.49,220.51 1438.51,221.46 1441.53,222.48 1444.55,223.4 1447.56,224.62 1450.58,226.32 1453.6,226.77 1456.61,227.91 1459.62,229.14 1462.63,230.25 1465.64,231.06 1468.65,232.54 1471.65,232.91 1474.66,234.04 1477.67,235.11 1480.68,235.75 1483.69,236.87 1486.7,237.78 1489.65,239.5 1492.59,239.84 1495.54,241.5 1498.49,242 1501.43,243.54 1504.38,244.59 1507.33,245.26 1510.27,246.99 1513.22,247.69 1516.17,248.6 1519.11,249.02 1522.06,250.49 1525.01,251.35 1527.95,252.63 1530.9,254.22 1533.91,255.24 1536.92,255.37 1539.92,257.22 1542.93,258.62 1545.94,259.25 1548.95,259.82 1551.95,261.84 1554.96,262.41 1557.97,264.18 1560.98,265.15 1563.98,266.19 1566.99,267.42 1570,267.48 1572.9,269.35 1575.8,269.77 1578.7,270.56 1581.6,271.85 1584.5,273.11 1587.4,273.41 1590.3,274.94 1593.2,276.34 1596.1,276.99 1599,278.03 1601.9,278.76 1604.8,280.57 1607.7,280.7 1610.6,282.22 1613.5,283.18 1616.4,283.4 1619.3,285.6 1622.14,285.93 1624.97,288.09 1627.81,289.26 1630.65,290.48 1633.49,291.68 1636.33,292.38 1639.16,293.68 1642,294.81 1644.84,296.62 1647.68,296.63 1650.52,297.85 1653.36,299.93 1656.2,300.85 1659.05,301.82 1661.89,303.23 1664.73,303.79 1667.57,305.26 1670.41,305.89 1673.25,307.53 1676.09,307.63 1678.93,309.17 1681.77,310.43 1684.61,311.79 1687.45,312.43 1690.3,313.84 1693.14,315.28 1695.98,315.72 1698.82,316.55 1701.66,317.44 1704.5,319.53 1707.49,319.82 1710.48,320.46 1713.47,321.37 1716.46,321.63 1719.45,322.5 1722.44,323.27 1725.43,324.04 1728.42,325.51 1731.41,325.52 1734.39,326.08 1737.38,327.76 1740.37,328.14 1743.36,328.25 1746.35,329.77 1749.34,330.53 1752.33,331.24 1755.32,332.13 1758.31,332.46 1761.3,332.97 1764.22,334.45 1767.14,335.16 1770.06,336.11 1772.97,336.35 1775.89,337.43 1778.81,338.67 1781.73,339.16 1784.65,340.27 1787.57,340.97 1790.49,342.17 1793.41,342.54 1796.33,343.57 1799.24,344.83 1802.16,345.06 1805.08,345.75 1808,347" fill="none" stroke="#0000ff" stroke-width="3" stroke-linejoin="round"/>
</g>
<rect x="1142.7" y="300.2" width="418.2" height="209.2" rx="6" ry="6" fill="#ffffff" fill-opacity="0.8" stroke="#cccccc" stroke-width="2"/>
<line x1="1154.7" y1="326.3" x2="1227.9" y2="326.3" stroke="#000" stroke-width="3"/>
<line x1="1154.7" y1="377" x2="1227.9" y2="377" stroke="#000" stroke-width="3" stroke-dasharray="17.5 4.5 3 4.5"/>
<line x1="1154.7" y1="427.1" x2="1227.9" y2="427.1" stroke="#0000ff" stroke-width="3"/>
<line x1="1154.7" y1="477.5" x2="1227.9" y2="477.5" stroke="#0000ff" stroke-width="3" stroke-dasharray="17.5 4.5 3 4.5"/>
<text x="1254.3" y="339" font-size="35.4" fill="#262626">6 nm as deposited</text>
<text x="1254.3" y="389.7" font-size="35.4" fill="#262626">6 nm simulated</text>
<text x="1254.3" y="439.4" font-size="35.4" fill="#262626">7 nm as deposited</text>
<text x="1254.3" y="489.5" font-size="35.4" fill="#262626">7 nm simulated</text>
<text x="1699.5" y="498.6" font-size="46" fill="#262626" transform="matrix(1.0480 0 0 1.0000 -81.720 0.000)">(b)</text>
<rect x="1049" y="18.3" width="760" height="516.7" fill="none" stroke="#1e1e1e" stroke-width="3.5"/>
<text x="1007.7" y="548.2" font-size="35" fill="#262626" transform="matrix(1.0000 0 0 1.0600 0.000 -32.892)">0</text>
<text x="988.7" y="444.6" font-size="35" fill="#262626" transform="matrix(1.0000 0 0 1.0600 0.000 -26.676)">20</text>
<text x="988.7" y="341" font-size="35" fill="#262626" transform="matrix(1.0000 0 0 1.0600 0.000 -20.460)">40</text>
<text x="988.7" y="237.4" font-size="35" fill="#262626" transform="matrix(1.0000 0 0 1.0600 0.000 -14.244)">60</text>
<text x="988.7" y="133.8" font-size="35" fill="#262626" transform="matrix(1.0000 0 0 1.0600 0.000 -8.028)">80</text>
<text x="968.7" y="30.2" font-size="35" fill="#262626" transform="matrix(1.0000 0 0 1.0600 0.000 -1.812)">100</text>
<text x="1103.76" y="581.6" font-size="35" fill="#262626" transform="matrix(1.0000 0 0 1.0750 0.000 -43.620)">400</text>
<text x="1272.08" y="581.6" font-size="35" fill="#262626" transform="matrix(1.0000 0 0 1.0750 0.000 -43.620)">600</text>
<text x="1441.41" y="581.6" font-size="35" fill="#262626" transform="matrix(1.0000 0 0 1.0750 0.000 -43.620)">800</text>
<text x="1600.23" y="581.6" font-size="35" fill="#262626" transform="matrix(1.0000 0 0 1.0750 0.000 -43.620)">1000</text>
<text x="1769.05" y="581.6" font-size="35" fill="#262626" transform="matrix(1.0000 0 0 1.0750 0.000 -43.620)">1200</text>
<text x="1285.9" y="619.8" font-size="35.5" font-weight="bold" fill="#262626">Wavelength (nm)</text>
<text transform="translate(954.3 431.6) rotate(-90)" x="0" y="0" font-size="35.7" font-weight="bold" fill="#262626">Transmittance (%)</text>
</svg></body></html>
